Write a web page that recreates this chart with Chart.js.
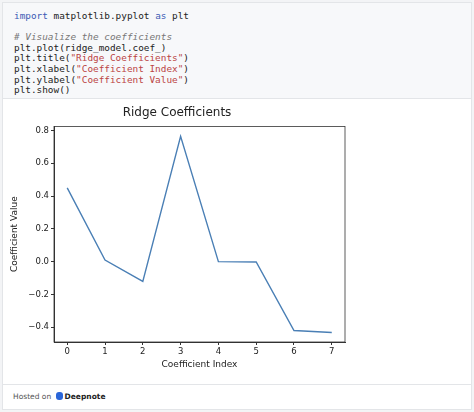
<!DOCTYPE html>
<html><head><meta charset="utf-8">
<script src="https://cdn.jsdelivr.net/npm/chart.js@4"></script>
<style>
body{margin:0;width:474px;height:412px;background:#f3f4f6;font-family:"DejaVu Sans",sans-serif;overflow:hidden}
#card{position:absolute;left:2px;top:2px;width:468px;height:406px;background:#fff;border:1px solid #e3e5e8}
#code{position:absolute;left:0;top:0;width:468px;height:96px;background:#f7f8fa;border-bottom:1px solid #e3e5e8;font-family:"DejaVu Sans Mono",monospace;font-size:9.4px;line-height:10.6px;color:#222;padding:8px 0 0 11px;box-sizing:border-box;white-space:pre}
.k{color:#3b5bb5}.c{color:#777;font-style:italic}.s{color:#b44}
#wrap{position:absolute;left:6px;top:99px;width:348px;height:268px}
#foot{position:absolute;left:0;top:381px;width:468px;height:25px;border-top:1px solid #e3e5e8;font-size:7.5px;color:#555;padding:7px 0 0 10px;box-sizing:border-box}
#foot b{color:#222}
.logo{display:inline-block;width:7px;height:8px;background:#2a66d9;border-radius:3px;vertical-align:-1px;margin:0 2px}
</style></head><body>
<div id="card">
<div id="code"><span class="k">import</span> matplotlib.pyplot <span class="k">as</span> plt

<span class="c"># Visualize the coefficients</span>
plt.plot(ridge_model.coef_)
plt.title(<span class="s">"Ridge Coefficients"</span>)
plt.xlabel(<span class="s">"Coefficient Index"</span>)
plt.ylabel(<span class="s">"Coefficient Value"</span>)
plt.show()</div>
<div id="wrap"><canvas id="c"></canvas></div>
<div id="foot">Hosted on <span class="logo"></span><b>Deepnote</b></div>
</div>
<script>
const indices=[0,1,2,3,4,5,6,7];
const coefs=[0.45,0.01,-0.12,0.765,0.0,-0.002,-0.42,-0.432];
const yTicks=[-0.4,-0.2,0.0,0.2,0.4,0.6,0.8];
const frame={id:'frame',afterDraw(ch){const a=ch.chartArea,x=ch.ctx;x.save();x.strokeStyle='#333';x.lineWidth=0.8;x.strokeRect(a.left,a.top,a.right-a.left,a.bottom-a.top);x.restore();}};
new Chart(document.getElementById('c'),{
type:'line',
data:{datasets:[{data:indices.map((v,i)=>({x:v,y:coefs[i]})),borderColor:'#4a7fb5',borderWidth:1.4,pointRadius:0,tension:0}]},
options:{responsive:true,maintainAspectRatio:false,animation:false,
layout:{padding:{right:12,left:0,top:0,bottom:0}},
plugins:{legend:{display:false},tooltip:{enabled:false},
title:{display:true,text:'Ridge Coefficients',color:'#222',font:{family:'DejaVu Sans',size:12,weight:'normal'},padding:{top:4,bottom:6}}},
scales:{
x:{type:'linear',min:-0.35,max:7.35,afterBuildTicks(s){s.ticks=indices.map(v=>({value:v}));},
ticks:{color:'#222',font:{family:'DejaVu Sans',size:8.5},padding:2,callback:v=>String(v),maxRotation:0,autoSkip:false},
grid:{drawOnChartArea:false,drawTicks:true,tickLength:3,color:'#333'},border:{color:'#333'},
title:{display:true,text:'Coefficient Index',color:'#222',font:{family:'DejaVu Sans',size:9},padding:{top:0,bottom:0}}},
y:{type:'linear',min:-0.49,max:0.825,afterBuildTicks(s){s.ticks=yTicks.map(v=>({value:v}));},afterFit(s){s.width=45;},
ticks:{color:'#222',font:{family:'DejaVu Sans',size:8.5},padding:2,callback:v=>v<0?'\u2212'+Math.abs(v).toFixed(1):v.toFixed(1),autoSkip:false},
grid:{drawOnChartArea:false,drawTicks:true,tickLength:3,color:'#333'},border:{color:'#333'},
title:{display:true,text:'Coefficient Value',color:'#222',font:{family:'DejaVu Sans',size:9},padding:{top:0,bottom:2}}}
}},
plugins:[frame]});
</script></body></html>
